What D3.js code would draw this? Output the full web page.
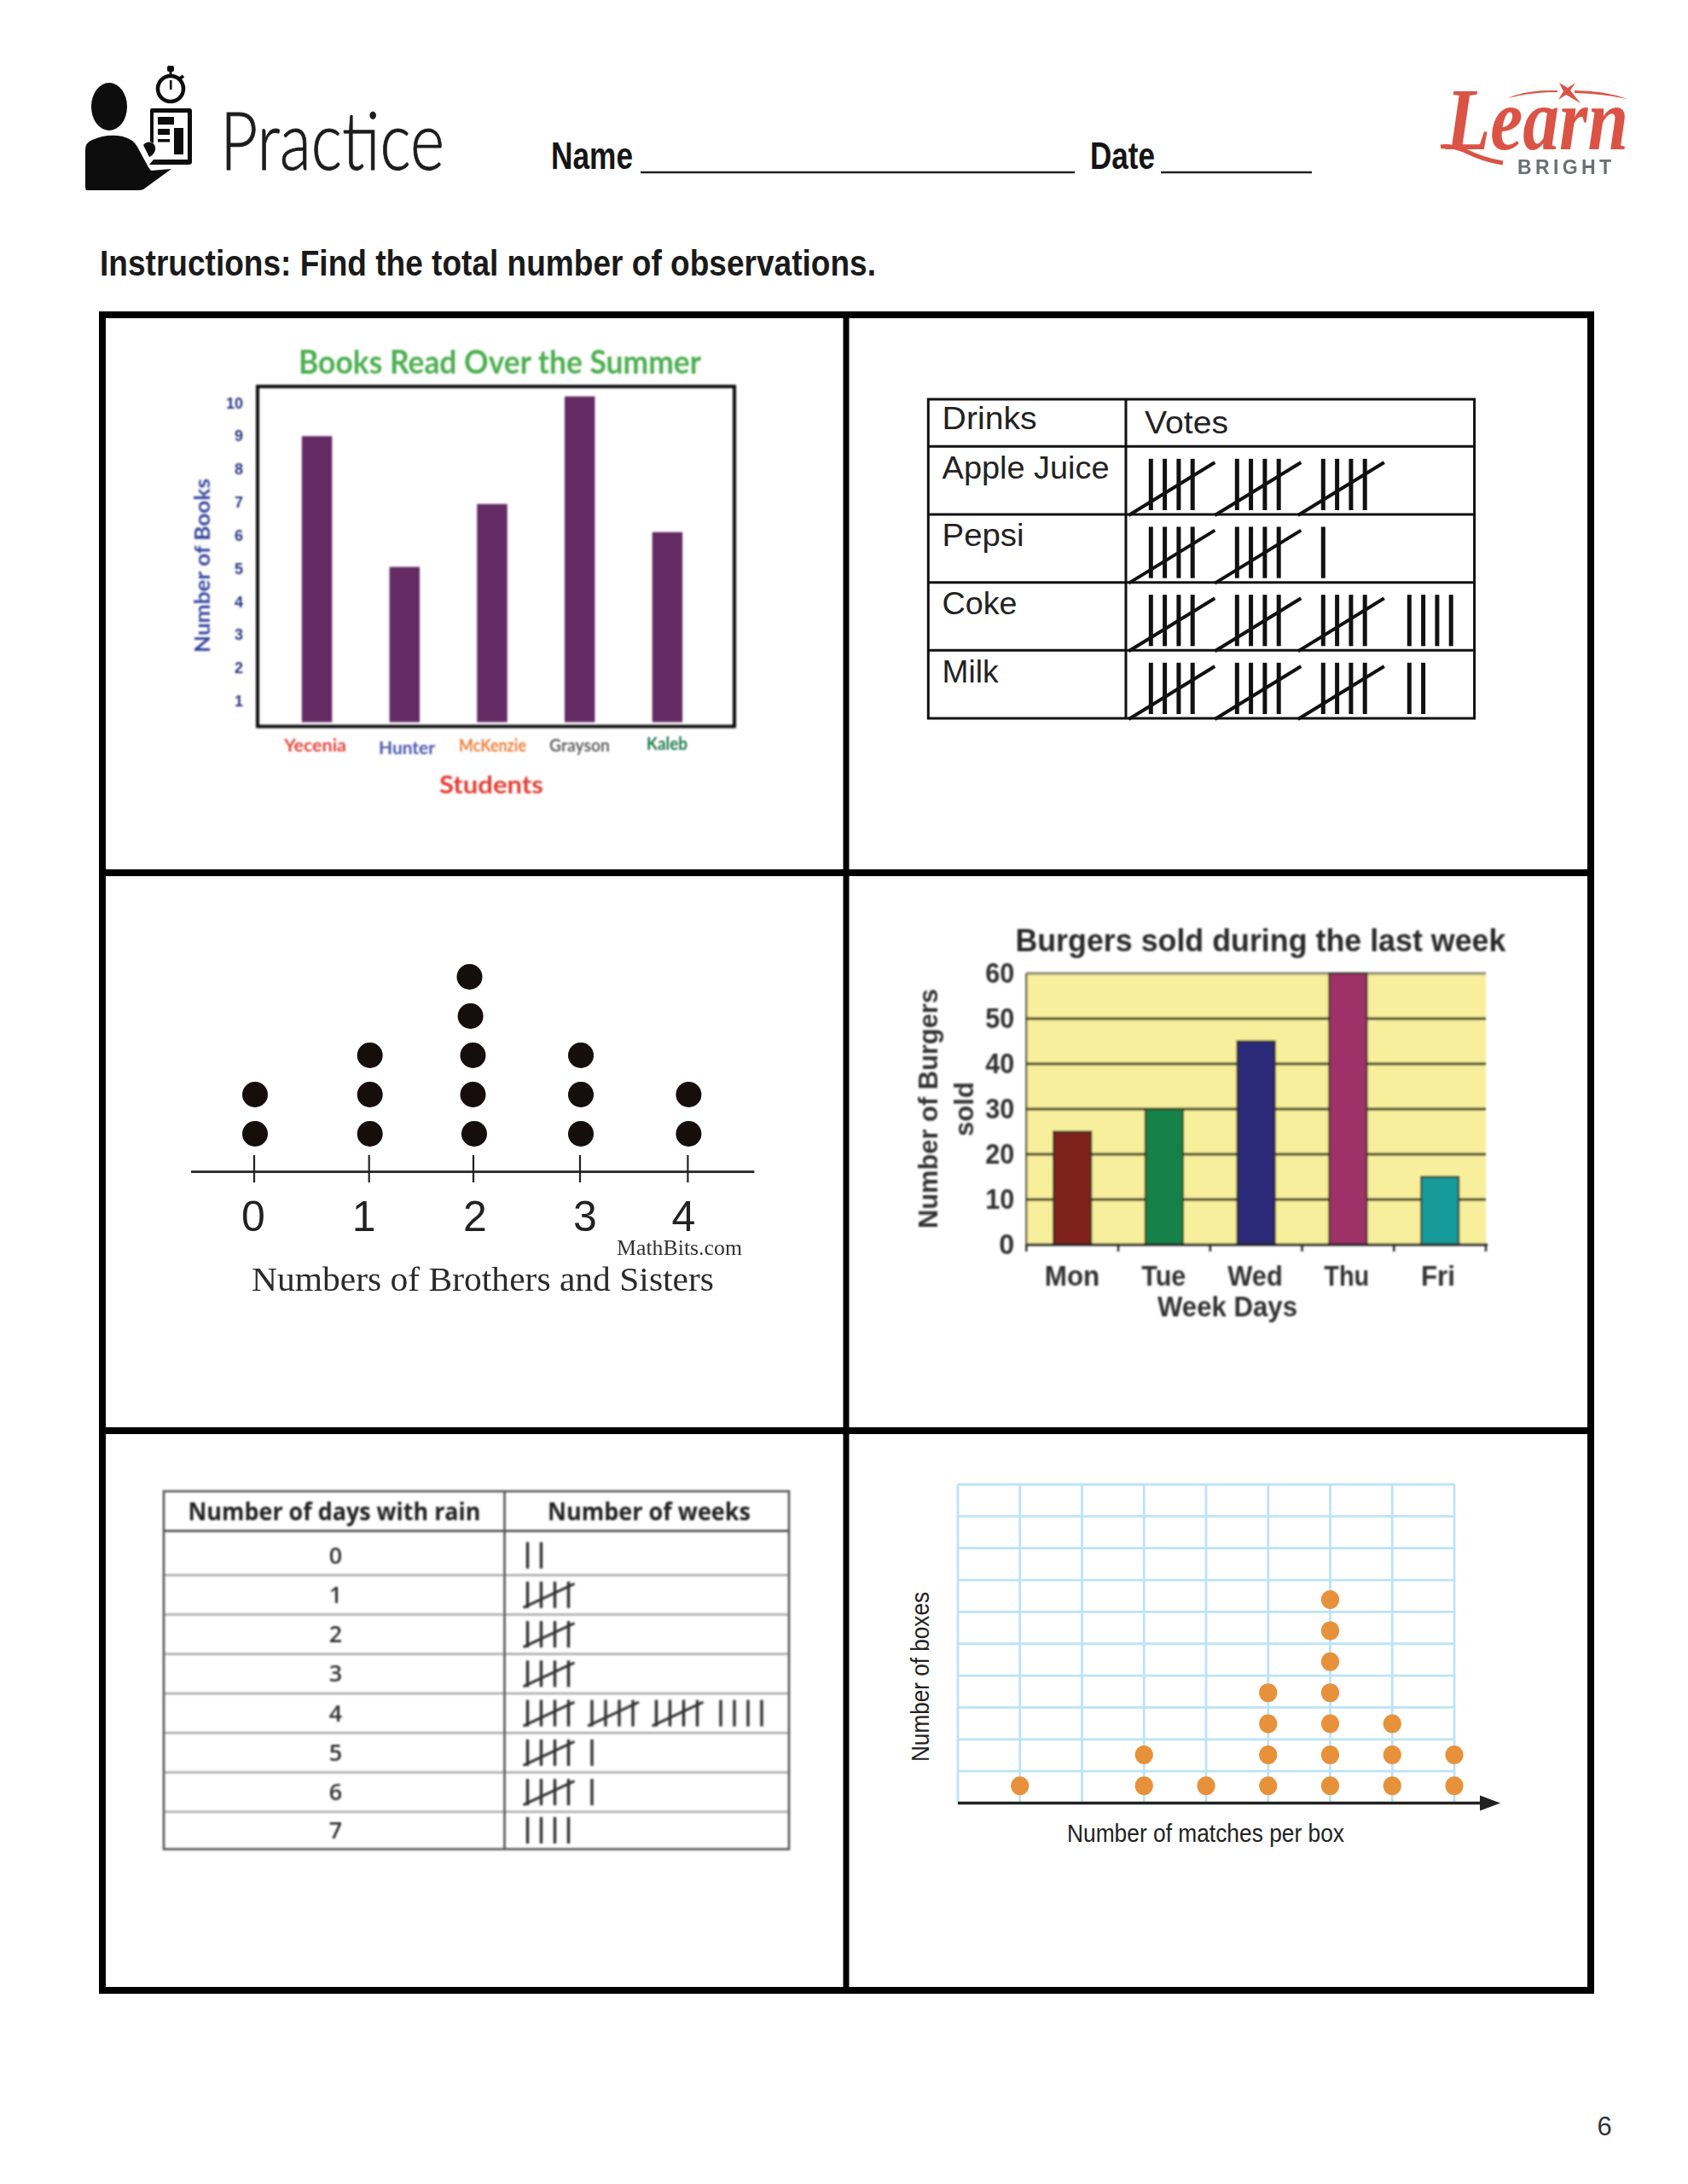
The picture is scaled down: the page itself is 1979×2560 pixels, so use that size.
<!DOCTYPE html>
<html><head><meta charset="utf-8">
<script src="https://cdn.jsdelivr.net/npm/d3@7"></script>
<style>html,body{margin:0;padding:0;background:#fff}svg{display:block}</style>
</head><body><div id="c"></div>
<script>
// ---------- data ----------
const bookStudents = ["Yecenia","Hunter","McKenzie","Grayson","Kaleb"];
const bookValues = [9,5.05,6.95,10.2,6.1];
const bookTicks = [1,2,3,4,5,6,7,8,9,10];
const drinkNames = ["Apple Juice","Pepsi","Coke","Milk"];
const drinkVotes = [15,11,19,17];
const siblingLabels = [0,1,2,3,4];
const siblingCounts = [2,3,5,3,2];
const burgerDays = ["Mon","Tue","Wed","Thu","Fri"];
const burgerValues = [25,30,45,60,15];
const burgerTicks = [0,10,20,30,40,50,60];
const rainDays = [0,1,2,3,4,5,6,7];
const rainWeeks = [2,5,5,5,19,6,6,4];
const matchSlots = [0,1,2,3,4,5,6,7,8];
const matchCounts = [0,1,0,2,1,4,7,3,2];
const gridRows = [0,1,2,3,4,5,6,7,8,9,10];

// ---------- helpers ----------
const svg = d3.select("#c").append("svg").attr("width",1979).attr("height",2560).attr("viewBox","0 0 1979 2560");
svg.append("rect").attr("width",1979).attr("height",2560).attr("fill","#fff");
const defs = svg.append("defs");
defs.append("filter").attr("id","soft").attr("x","-5%").attr("y","-5%").attr("width","110%").attr("height","110%")
  .append("feGaussianBlur").attr("stdDeviation",0.8);
defs.append("filter").attr("id","softer").attr("x","-5%").attr("y","-5%").attr("width","110%").attr("height","110%")
  .append("feGaussianBlur").attr("stdDeviation",0.45);

const SANS="'Liberation Sans'", NARROW="'Liberation Sans Narrow','Liberation Sans'", SERIF="'Liberation Serif'";
function T(g,str,o){
  const t=g.append("text").text(str).attr("font-family",o.font||SANS).attr("font-size",o.size)
    .attr("font-weight",o.weight||"normal").attr("fill",o.fill||"#222")
    .attr("text-anchor",o.anchor||"start");
  if(o.style) t.attr("font-style",o.style);
  if(o.len) t.attr("textLength",o.len).attr("lengthAdjust","spacingAndGlyphs");
  if(o.spacing) t.attr("letter-spacing",o.spacing);
  if(o.stroke) t.attr("stroke",o.fill||"#222").attr("stroke-width",o.stroke);
  if(o.rotate!==undefined) t.attr("transform",`translate(${o.x},${o.y}) rotate(${o.rotate})`);
  else t.attr("x",o.x).attr("y",o.y);
  return t;
}
// tally marks: four uprights per group, the fifth mark is a slash
function drawTally(g,count,o){
  const groups=d3.range(Math.ceil(count/5));
  groups.forEach(k=>{
    const n=Math.min(5,count-k*5), x0=o.x(k);
    d3.range(Math.min(n,4)).forEach(i=>{
      g.append("line").attr("x1",x0+i*o.gap).attr("x2",x0+i*o.gap).attr("y1",o.top).attr("y2",o.bottom)
        .attr("stroke",o.color).attr("stroke-width",o.w);
    });
    const shift=(o.slashShift||[0,0,0,0])[k];
    if(n===5) g.append("line").attr("x1",x0+o.sx1+shift).attr("y1",o.sy1).attr("x2",x0+o.sx2+shift).attr("y2",o.sy2)
        .attr("stroke",o.color).attr("stroke-width",o.sw);
  });
}

// ---------- header ----------
const head=svg.append("g");
const icon=head.append("g").attr("fill","#0b0b0b").attr("filter","url(#softer)");
icon.append("ellipse").attr("cx",128).attr("cy",125).attr("rx",21).attr("ry",28);
icon.append("path").attr("d","M101 223 Q100 222 100 218 L100 176 Q100 167 108 164 Q126 156 144 160 Q156 163 161 172 L174 196 L177 200 L201 198 L168 222 Q166 223 162 223 Z");
icon.append("path").attr("d","M168 170 Q172 165 177 167 Q183 169 182 176 Q180 182 175 184 Z");
icon.append("circle").attr("cx",200).attr("cy",104).attr("r",15).attr("fill","none").attr("stroke","#0b0b0b").attr("stroke-width",4.5);
icon.append("rect").attr("x",196).attr("y",77).attr("width",8).attr("height",7).attr("rx",2);
icon.append("rect").attr("x",198.5).attr("y",83).attr("width",3).attr("height",6);
icon.append("rect").attr("x",199).attr("y",94).attr("width",2.5).attr("height",11);
icon.append("line").attr("x1",211).attr("y1",92).attr("x2",215).attr("y2",89).attr("stroke","#0b0b0b").attr("stroke-width",4);
icon.append("path").attr("fill-rule","evenodd").attr("d","M178 127 Q176 127 176 130 L176 166 L180 168 L180 132 L220 132 L220 187 L180 187 L175 193 L221 193 Q225 193 225 190 L225 130 Q225 127 222 127 Z");
icon.append("rect").attr("x",185).attr("y",137).attr("width",19).attr("height",9);
icon.append("rect").attr("x",185).attr("y",151).attr("width",14).attr("height",7);
icon.append("rect").attr("x",185).attr("y",163).attr("width",14).attr("height",3.5);
icon.append("rect").attr("x",204).attr("y",150).attr("width",11).attr("height",31);

T(head,"Practice",{x:258,y:199,size:94,font:"Lato",weight:300,fill:"#1d1d1d",len:263,stroke:0.9});
T(head,"Name",{x:646,y:198,size:44,font:NARROW,weight:"bold",fill:"#151515",len:96});
head.append("line").attr("x1",751).attr("x2",1260).attr("y1",202).attr("y2",202).attr("stroke","#222").attr("stroke-width",2.5);
T(head,"Date",{x:1278,y:198,size:44,font:NARROW,weight:"bold",fill:"#151515",len:76});
head.append("line").attr("x1",1361).attr("x2",1538).attr("y1",202).attr("y2",202).attr("stroke","#222").attr("stroke-width",2.5);
T(head,"Instructions: Find the total number of observations.",{x:117,y:323,size:42,font:NARROW,weight:"bold",fill:"#1a1a1a",len:910});

// logo
const RED="#db5344";
const logo=head.append("g").attr("filter","url(#softer)");
T(logo,"Learn",{x:1695,y:175,size:104,font:SERIF,weight:"bold",style:"italic",fill:RED,len:214});
logo.append("path").attr("d","M1689 172 Q1700 170 1716 176 Q1740 188 1762 191").attr("fill","none").attr("stroke",RED).attr("stroke-width",5);
logo.append("path").attr("d","M1768 115 Q1790 105 1826 106 L1826 108 Q1795 108 1768 115 Z").attr("fill",RED);
logo.append("path").attr("d","M1846 106 Q1880 106 1908 116 Q1880 110 1846 109 Z").attr("fill",RED);
logo.append("path").attr("d","M1828 97 L1838 103 L1847 97 L1841 106 L1853 121 L1836 111 L1827 117 L1833 107 Z").attr("fill",RED);
T(logo,"BRIGHT",{x:1779,y:204,size:23,weight:"bold",fill:"#6c6f71",spacing:4.4});

// ---------- frame ----------
const frame=svg.append("g").attr("fill","none").attr("stroke","#000").attr("stroke-width",8);
frame.append("rect").attr("x",120).attr("y",369).attr("width",1745).attr("height",1964);
frame.append("line").attr("x1",992).attr("x2",992).attr("y1",369).attr("y2",2333).attr("stroke-width",7);
frame.append("line").attr("x1",120).attr("x2",1865).attr("y1",1023).attr("y2",1023);
frame.append("line").attr("x1",120).attr("x2",1865).attr("y1",1677).attr("y2",1677);

// ---------- panel 1: books ----------
(function(){
  const g=svg.append("g").attr("filter","url(#soft)");
  const x=d3.scaleBand().domain(bookStudents).range([320,834]).padding(0.655).paddingOuter(0.33);
  const y=d3.scaleLinear().domain([1,10]).range([821.7,472.4]);
  const base=846.5;
  T(g,"Books Read Over the Summer",{x:350,y:438,size:38,font:"Lato",weight:"bold",fill:"#4caf50",len:472});
  g.selectAll(".bar").data(bookValues).join("rect")
    .attr("x",(d,i)=>x(bookStudents[i])).attr("width",x.bandwidth())
    .attr("y",d=>y(d)).attr("height",d=>base-y(d)).attr("fill","#632a63");
  g.append("rect").attr("x",302).attr("y",453).attr("width",559).attr("height",398.5).attr("fill","none").attr("stroke","#111").attr("stroke-width",4);
  const ax=g.append("g").attr("transform","translate(285,0)")
    .call(d3.axisLeft(y).tickValues(bookTicks).tickSize(0).tickPadding(0).tickFormat(d3.format("d")));
  ax.select(".domain").remove();
  ax.selectAll("text").attr("font-family",SANS).attr("font-weight","bold").attr("font-size",18).attr("fill","#2a3680");
  T(g,"Number of Books",{x:246,y:765,rotate:-90,size:24,font:"Lato",weight:"bold",fill:"#3b4a9f",len:204});
  const labelCols=["#e2463d","#4b56aa","#ee7d3c","#666","#1f7b4c"];
  const labelBox=[[333,73,881],[444,66,884],[538,79,881],[644,71,881],[758,48,879]];
  bookStudents.forEach((s,i)=>T(g,s,{x:labelBox[i][0],y:labelBox[i][2],size:20,font:"Lato",weight:"bold",fill:labelCols[i],len:labelBox[i][1]}));
  T(g,"Students",{x:515,y:930,size:29,font:"Lato",weight:"bold",fill:"#e23c33",len:122});
})();

// ---------- panel 2: drinks tally ----------
(function(){
  const g=svg.append("g");
  const y=d3.scaleBand().domain(drinkNames).range([523.3,842]);
  const L=1088.3,R=1728.6,mid=1320;
  g.append("rect").attr("x",L).attr("y",468).attr("width",R-L).attr("height",374).attr("fill","none").attr("stroke","#111").attr("stroke-width",3);
  g.append("line").attr("x1",mid).attr("x2",mid).attr("y1",468).attr("y2",842).attr("stroke","#111").attr("stroke-width",3);
  g.append("line").attr("x1",L).attr("x2",R).attr("y1",523.3).attr("y2",523.3).attr("stroke","#111").attr("stroke-width",3);
  drinkNames.slice(1).forEach(d=>g.append("line").attr("x1",L).attr("x2",R).attr("y1",y(d)).attr("y2",y(d)).attr("stroke","#111").attr("stroke-width",3));
  const F={size:37,font:SANS,weight:"normal",fill:"#222"};
  T(g,"Drinks",{...F,x:1104.6,y:503,len:111});
  T(g,"Votes",{...F,x:1342,y:508,len:98});
  const widths=[196,96,88,66], bases=[38,37,37.5,37.5];
  const gx=d3.scaleLinear().domain([0,3]).range([1349.3,1652.3]);
  drinkNames.forEach((d,i)=>{
    const t=y(d), b=t+y.bandwidth();
    T(g,d,{...F,x:1104.6,y:t+bases[i],len:widths[i]});
    drawTally(g,drinkVotes[i],{x:gx,gap:16.3,top:t+14.5,bottom:b-5,color:"#111",w:5,sw:4,
      sx1:-26,sy1:b+1,sx2:75,sy2:b-61,slashShift:[0,0,-3.5,0]});
  });
})();

// ---------- panel 3: siblings dot plot ----------
(function(){
  const g=svg.append("g").attr("filter","url(#softer)");
  const x=d3.scaleLinear().domain([0,1,2,3,4]).range([298,432.7,555,680,806.4]);
  const lvl=d3.scaleLinear().domain([1,5]).range([1329,1145]);
  const lean=[1,-0.5,-0.5,-3.4,-4.5];
  g.append("line").attr("x1",224).attr("x2",884.4).attr("y1",1373.5).attr("y2",1373.5).attr("stroke","#333").attr("stroke-width",3.2);
  siblingLabels.forEach((d,i)=>{
    g.append("line").attr("x1",x(d)).attr("x2",x(d)).attr("y1",1354).attr("y2",1386).attr("stroke","#222").attr("stroke-width",2.2);
    T(g,String(d),{x:x(d)+[-1,-6,2,6,-5][i],y:1443,size:50,anchor:"middle",fill:"#222"});
    d3.range(1,siblingCounts[i]+1).forEach(l=>{
      const dx=d===2?lean[l-1]:1;
      g.append("circle").attr("cx",x(d)+dx).attr("cy",lvl(l)).attr("r",15).attr("fill","#120808");
    });
  });
  T(g,"MathBits.com",{x:723,y:1471,size:25,font:SERIF,fill:"#333",len:147});
  T(g,"Numbers of Brothers and Sisters",{x:295,y:1513,size:39,font:SERIF,fill:"#2a2a2a",len:542});
})();

// ---------- panel 4: burgers ----------
(function(){
  const g=svg.append("g").attr("filter","url(#soft)");
  const x=d3.scaleBand().domain(burgerDays).range([1203.3,1742]).paddingInner(0.59).paddingOuter(0.295);
  const y=d3.scaleLinear().domain([0,60]).range([1459,1141]);
  const cols=["#80201e","#12804a","#2b2a78","#9e3068","#159a9a"];
  g.append("rect").attr("x",1203.3).attr("y",1141).attr("width",538.7).attr("height",318).attr("fill","#f7ef9b");
  burgerTicks.slice(1).forEach(t=>g.append("line").attr("x1",1203.3).attr("x2",1742).attr("y1",y(t)).attr("y2",y(t))
    .attr("stroke",t===60?"#8a8a70":"#38381e").attr("stroke-width",3));
  g.selectAll(".b").data(burgerValues).join("rect")
    .attr("x",(d,i)=>x(burgerDays[i])).attr("width",x.bandwidth())
    .attr("y",d=>y(d)).attr("height",d=>y(0)-y(d))
    .attr("fill",(d,i)=>cols[i]).attr("stroke","#2a2a1c").attr("stroke-width",2);
  g.append("line").attr("x1",1203.3).attr("x2",1203.3).attr("y1",1141).attr("y2",1459).attr("stroke","#38381e").attr("stroke-width",2);
  g.append("line").attr("x1",1203.3).attr("x2",1744).attr("y1",1459).attr("y2",1459).attr("stroke","#222").attr("stroke-width",3);
  const edge=d3.scaleLinear().domain([0,5]).range([1203.3,1742]);
  d3.range(6).forEach(i=>g.append("line").attr("x1",edge(i)).attr("x2",edge(i)).attr("y1",1459).attr("y2",1467).attr("stroke","#222").attr("stroke-width",2.4));
  const ax=g.append("g").attr("transform","translate(1203.3,0)")
    .call(d3.axisLeft(y).tickValues(burgerTicks).tickSize(0).tickPadding(14));
  ax.select(".domain").remove();
  ax.selectAll("text").attr("font-family",SANS).attr("font-size",33).attr("font-weight","bold").attr("fill","#333")
    .attr("textLength",d=>d===0?18:34).attr("lengthAdjust","spacingAndGlyphs");
  const bx=d3.scalePoint().domain(burgerDays).range([1257,1686]);
  const dayW=[64.5,52,64.5,53,40];
  burgerDays.forEach((d,i)=>T(g,d,{x:bx(d)-dayW[i]/2,y:1507,size:34,weight:"bold",fill:"#333",len:dayW[i]}));
  T(g,"Week Days",{x:1357,y:1543,size:33,weight:"bold",fill:"#333",len:164});
  T(g,"Burgers sold during the last week",{x:1190.4,y:1114.7,size:37,weight:"bold",fill:"#2a2a2a",len:575});
  T(g,"Number of Burgers",{x:1099,y:1440,rotate:-90,size:32,weight:"bold",fill:"#333",len:281});
  T(g,"sold",{x:1141,y:1332,rotate:-90,size:32,weight:"bold",fill:"#333",len:64});
})();

// ---------- panel 5: rain tally ----------
(function(){
  const g=svg.append("g").attr("filter","url(#soft)");
  const y=d3.scaleBand().domain(rainDays).range([1800,2170]);
  const L=192,R=925,mid=591.5;
  rainDays.slice(1).forEach(d=>g.append("line").attr("x1",L).attr("x2",R).attr("y1",y(d)).attr("y2",y(d)).attr("stroke","#a8a8a8").attr("stroke-width",2.6));
  g.append("line").attr("x1",L).attr("x2",R).attr("y1",1794.5).attr("y2",1794.5).attr("stroke","#444").attr("stroke-width",2.4);
  g.append("rect").attr("x",L).attr("y",1748).attr("width",R-L).attr("height",419.5).attr("fill","none").attr("stroke","#555").attr("stroke-width",2.6);
  g.append("line").attr("x1",mid).attr("x2",mid).attr("y1",1748).attr("y2",2167.5).attr("stroke","#555").attr("stroke-width",2.6);
  T(g,"Number of days with rain",{x:220.5,y:1782,size:29,font:"'Open Sans'",weight:"700",fill:"#222",len:343});
  T(g,"Number of weeks",{x:642,y:1782,size:29,font:"'Open Sans'",weight:"700",fill:"#222",len:238});
  const gx=d3.scaleLinear().domain([0,3]).range([618.5,845]);
  rainDays.forEach((d,i)=>{
    const c=y(d)+y.bandwidth()/2-(i===7?1.5:0);
    T(g,String(d),{x:393.4,y:c+9.5,size:27,font:"'Open Sans'",weight:"600",anchor:"middle",fill:"#333"});
    drawTally(g,rainWeeks[i],{x:gx,gap:16,top:c-15.5,bottom:c+15.5,color:"#333",w:3.4,sw:3,
      sx1:-5,sy1:c+15,sx2:55,sy2:c-13});
  });
})();

// ---------- panel 6: matches dot plot ----------
(function(){
  const g=svg.append("g");
  const x=d3.scaleLinear().domain([0,8]).range([1123,1705]);
  const gy=d3.scaleLinear().domain([0,10]).range([2113.5,1740]);
  const lvl=d3.scaleLinear().domain([1,7]).range([2093.3,1875]);
  matchSlots.forEach(s=>g.append("line").attr("x1",x(s)).attr("x2",x(s)).attr("y1",1740).attr("y2",2113.5).attr("stroke","#bde3f6").attr("stroke-width",2.8));
  gridRows.slice(1).forEach(r=>g.append("line").attr("x1",1123).attr("x2",1705).attr("y1",gy(r)).attr("y2",gy(r)).attr("stroke","#bde3f6").attr("stroke-width",2.8));
  g.append("line").attr("x1",1123).attr("x2",1738).attr("y1",2113.5).attr("y2",2113.5).attr("stroke","#222").attr("stroke-width",3.6);
  g.append("path").attr("d","M1735 2104.5 L1759 2113.5 L1735 2122.5 Z").attr("fill","#222");
  matchSlots.forEach((s,i)=>d3.range(1,matchCounts[i]+1).forEach(l=>{
    g.append("ellipse").attr("cx",x(s)).attr("cy",lvl(l)).attr("rx",10.6).attr("ry",11).attr("fill","#e8913b");
  }));
  T(g,"Number of matches per box",{x:1251,y:2159,size:29,font:NARROW,fill:"#222",len:325});
  T(g,"Number of boxes",{x:1089,y:2065,rotate:-90,size:29,fill:"#222",len:199});
})();

// page number
T(svg,"6",{x:1881,y:2503,size:31,anchor:"middle",fill:"#333"});
</script></body></html>
